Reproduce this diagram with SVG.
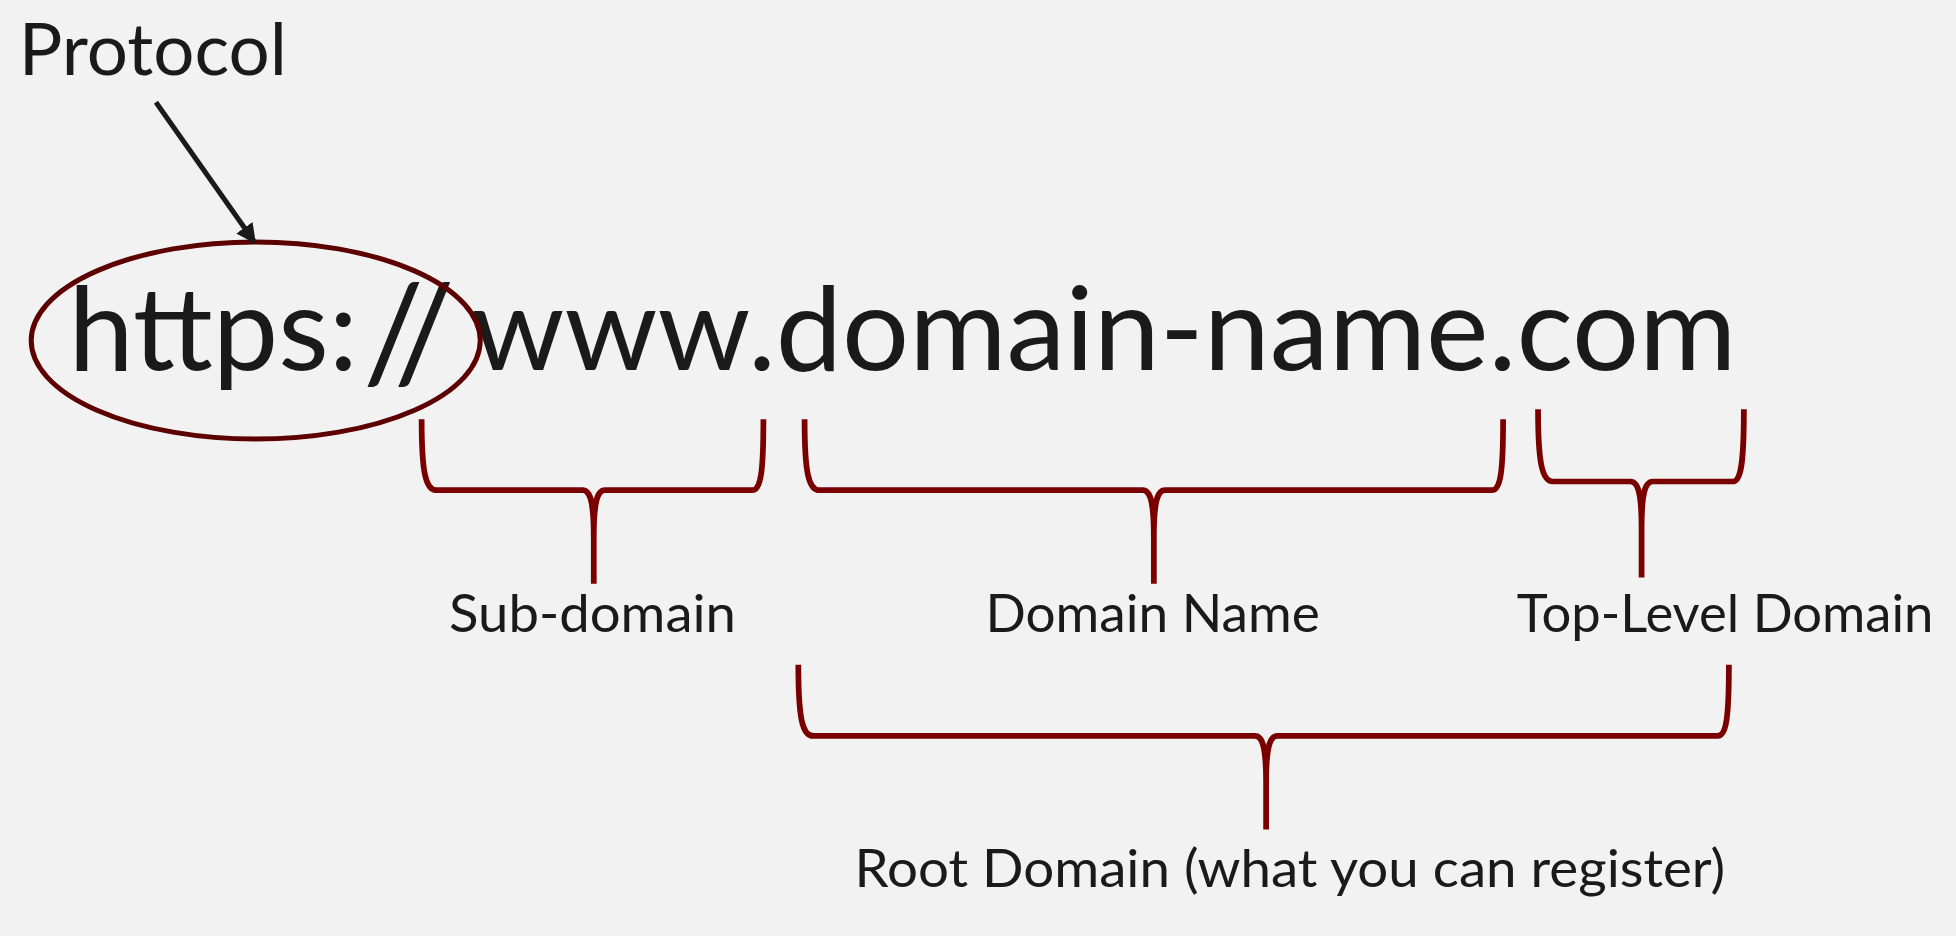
<svg xmlns="http://www.w3.org/2000/svg" width="1956" height="936" viewBox="0 0 1956 936">
<style>
.t{font-family:Lato,"Open Sans","Liberation Sans",sans-serif;fill:#1a1a1a}
.br{fill:none;stroke:#7a0000;stroke-width:4.6;stroke-linejoin:round;stroke-linecap:butt}
</style>
<defs>
<marker id="ah" markerWidth="4" markerHeight="4" refX="3.5" refY="2" orient="auto" markerUnits="strokeWidth">
<path d="M0,0 L4,2 L0,4 Z" fill="#1a1a1a"/>
</marker>
</defs>
<rect width="1956" height="936" fill="#f2f2f2"/>
<g transform="scale(1.2474)">
<g id="protocol">
<text class="t" x="15" y="60" font-size="58" textLength="215" lengthAdjust="spacingAndGlyphs">Protocol</text>
</g>
<g id="url">
<text class="t" font-size="94"><tspan x="55" y="297" textLength="232" lengthAdjust="spacingAndGlyphs">https:</tspan><tspan x="291" y="305" font-size="108">//</tspan><tspan x="378" y="297" textLength="1014" lengthAdjust="spacingAndGlyphs">www.domain-name.com</tspan></text>
</g>
<g id="protocol-ellipse">
<ellipse cx="205" cy="273" rx="180" ry="79" fill="none" stroke="#5c0000" stroke-width="4"/>
</g>
<g id="connectors">
<line x1="125" y1="82" x2="204" y2="194" stroke="#1a1a1a" stroke-width="4" marker-end="url(#ah)"/>
</g>
<g id="brace-subdomain">
<path class="br" d="M338,336 C338,378 341,393 350,393 L467,393 C474,393 476,405 476,430 L476,468 M476,430 C476,405 478,393 485,393 L603,393 C610,393 612,378 612,336"/>
<text class="t" x="360" y="507" font-size="42" textLength="230" lengthAdjust="spacingAndGlyphs">Sub-domain</text>
</g>
<g id="brace-domain">
<path class="br" d="M645,336 C645,378 648,393 657,393 L916,393 C923,393 925,405 925,430 L925,468 M925,430 C925,405 927,393 934,393 L1196,393 C1203,393 1205,378 1205,336"/>
<text class="t" x="790" y="507" font-size="42" textLength="268" lengthAdjust="spacingAndGlyphs">Domain Name</text>
</g>
<g id="brace-tld">
<path class="br" d="M1233,328 C1233,370 1236,386 1245,386 L1307,386 C1314,386 1316,398 1316,423 L1316,463 M1316,423 C1316,398 1318,386 1325,386 L1389,386 C1396,386 1398,370 1398,328"/>
<text class="t" x="1216" y="507" font-size="42" textLength="334" lengthAdjust="spacingAndGlyphs">Top-Level Domain</text>
</g>
<g id="brace-root">
<path class="br" d="M640,533 C640,575 643,590 652,590 L1006,590 C1013,590 1015,602 1015,627 L1015,665 M1015,627 C1015,602 1017,590 1024,590 L1377,590 C1384,590 1386,575 1386,533"/>
<text class="t" x="685" y="711" font-size="42" textLength="698" lengthAdjust="spacingAndGlyphs">Root Domain (what you can register)</text>
</g>
</g>
</svg>
